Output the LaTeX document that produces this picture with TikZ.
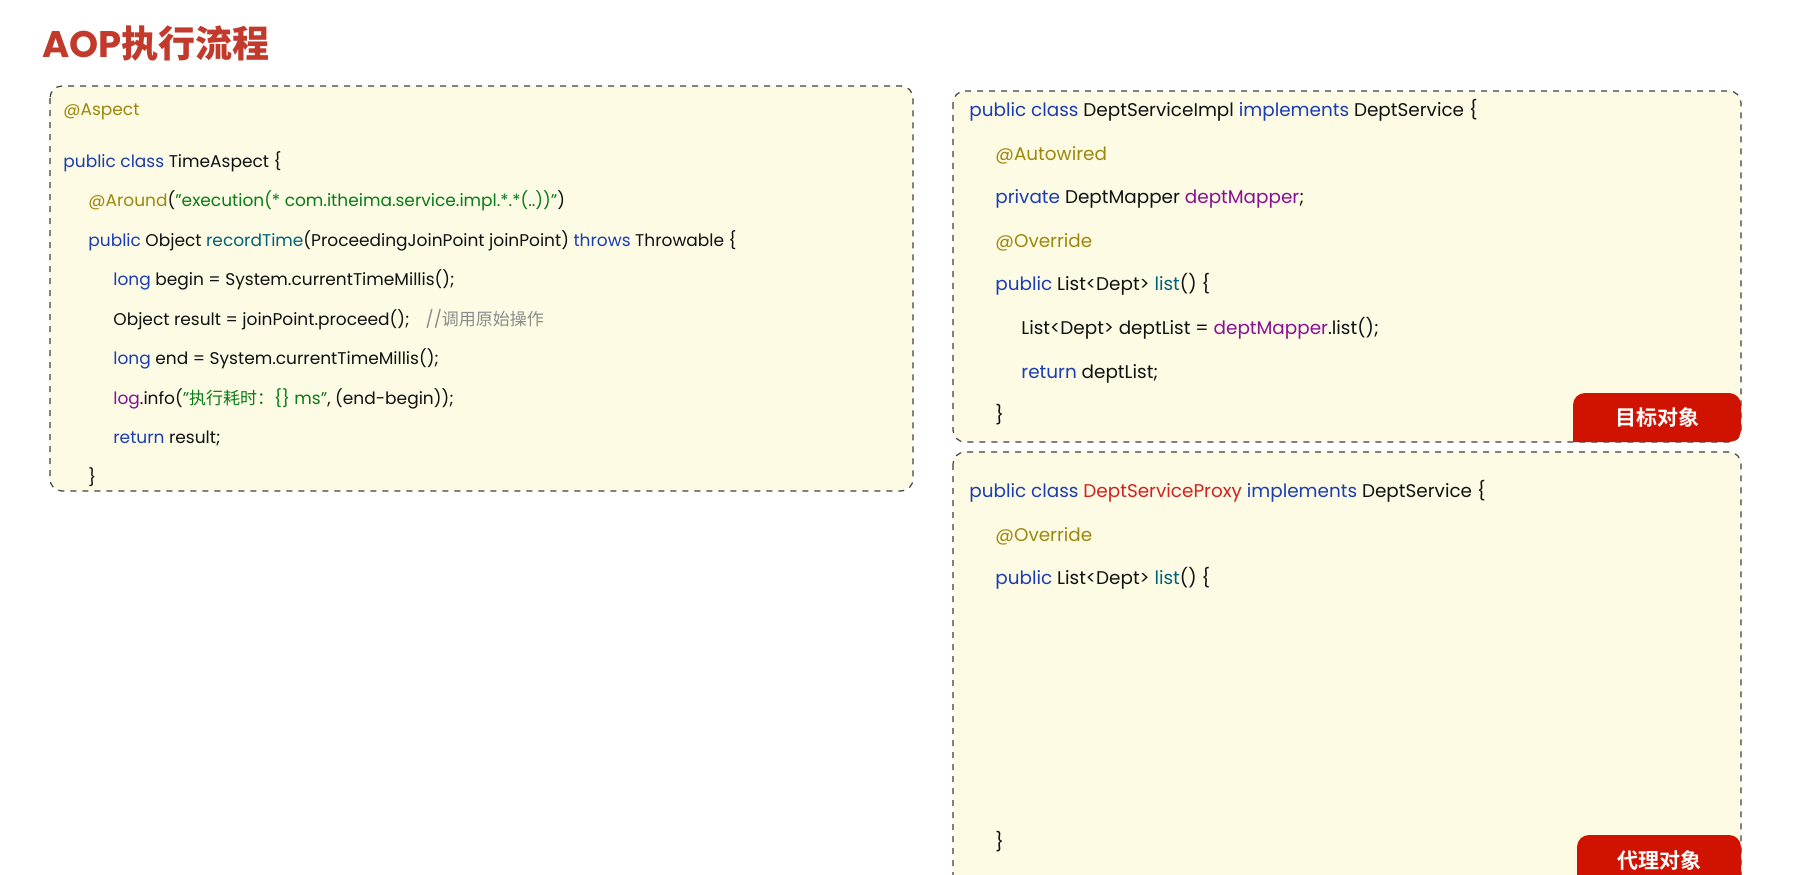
\documentclass[tikz,border=0pt]{standalone}
\usepackage{fontspec}
\setmainfont{Poppins}
\newfontfamily\cjk{Noto Sans CJK SC}
\newfontfamily\cjkb{Noto Sans CJK SC Bold}
\definecolor{kw}{HTML}{1A3DB4}
\definecolor{ann}{HTML}{9E870D}
\definecolor{str}{HTML}{067D17}
\definecolor{mth}{HTML}{00627A}
\definecolor{pur}{HTML}{871094}
\definecolor{prx}{HTML}{D42020}
\definecolor{cmt}{HTML}{8C8C8C}
\definecolor{txt}{HTML}{111111}
\definecolor{cream}{HTML}{FDFBE4}
\definecolor{tred}{HTML}{C23A2B}
\definecolor{lred}{HTML}{D01200}
\newcommand\kwc[1]{\textcolor{kw}{#1}}
\newcommand\annc[1]{\textcolor{ann}{#1}}
\newcommand\strc[1]{\textcolor{str}{#1}}
\newcommand\mthc[1]{\textcolor{mth}{#1}}
\newcommand\purc[1]{\textcolor{pur}{#1}}
\begin{document}
\begin{tikzpicture}[x=0.5pt,y=-0.5pt,
  codebox/.style={draw=black!75,dashed,fill=cream,rounded corners=6pt,line width=0.6pt},
  lcode/.style={anchor=base west,inner sep=0,text=txt,font=\fontsize{8.5pt}{10pt}\selectfont},
  rcode/.style={anchor=base west,inner sep=0,text=txt,font=\fontsize{9.2pt}{11pt}\selectfont},
  tag/.style={text=white,font=\cjkb\fontsize{10.5pt}{12pt}\selectfont,inner sep=0}]
\useasboundingbox (0,0) rectangle (1800,874);
\clip (0,0) rectangle (1800,874);
\node[anchor=base west,inner sep=0,text=tred,font=\bfseries\fontsize{18.5pt}{22pt}\selectfont] (title) at (42,57) {AOP{\cjkb 执行流程}};
% left box
\draw[codebox] (50,86) rectangle (913,491);
\node[lcode] (l1) at (63,115) {\annc{@Aspect}};
\node[lcode] (l2) at (63,167) {\kwc{public class} TimeAspect \{};
\node[lcode] (l3) at (88,206.5) {\annc{@Around}(\strc{"execution(* com.itheima.service.impl.*.*(..))"})};
\node[lcode] (l4) at (88,246) {\kwc{public} Object \mthc{recordTime}(ProceedingJoinPoint joinPoint) \kwc{throws} Throwable \{};
\node[lcode] (l5) at (113,285.5) {\kwc{long} begin = System.currentTimeMillis();};
\node[lcode] (l6) at (113,325) {Object result = joinPoint.proceed();\hspace{8pt}\textcolor{cmt}{//{\cjk 调用原始操作}}};
\node[lcode] (l7) at (113,364.5) {\kwc{long} end = System.currentTimeMillis();};
\node[lcode] (l8) at (113,404) {\purc{log}.info(\strc{"{\cjk 执行耗时：}\{\} ms"}, (end-begin));};
\node[lcode] (l9) at (113,443.5) {\kwc{return} result;};
\node[lcode] (l10) at (88,483) {\}};
% right box 1
\draw[codebox] (953,91) rectangle (1741,442);
\node[rcode] (r1) at (969,116) {\kwc{public class} DeptServiceImpl \kwc{implements} DeptService \{};
\node[rcode] (r2) at (995,160) {\annc{@Autowired}};
\node[rcode] (r3) at (995,203) {\kwc{private} DeptMapper \purc{deptMapper};};
\node[rcode] (r4) at (995,247) {\annc{@Override}};
\node[rcode] (r5) at (995,290) {\kwc{public} List<Dept> \mthc{list}() \{};
\node[rcode] (r6) at (1021,334) {List<Dept> deptList = \purc{deptMapper}.list();};
\node[rcode] (r7) at (1021,378) {\kwc{return} deptList;};
\node[rcode] (r8) at (995,421) {\}};
\fill[lred,rounded corners=6pt] (1573,442) -- (1573,393) -- (1741,393) [sharp corners] -- (1741,420) [rounded corners=6pt] -- (1741,442) [sharp corners] -- cycle;
\node[tag] (t1) at (1657,417) {目标对象};
% right box 2
\draw[codebox] (953,452) rectangle (1741,900);
\node[rcode] (p1) at (969,497) {\kwc{public class} \textcolor{prx}{DeptServiceProxy} \kwc{implements} DeptService \{};
\node[rcode] (p2) at (995,541) {\annc{@Override}};
\node[rcode] (p3) at (995,584) {\kwc{public} List<Dept> \mthc{list}() \{};
\node[rcode] (p4) at (995,848) {\}};
\fill[lred,rounded corners=6pt] (1577,880) -- (1577,835) -- (1741,835) [sharp corners] -- (1741,880) -- cycle;
\node[tag] (t2) at (1659,860) {代理对象};
\end{tikzpicture}
\end{document}
